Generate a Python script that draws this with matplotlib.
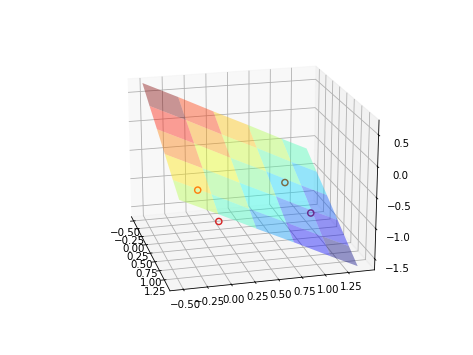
import numpy as np
import matplotlib
matplotlib.use("Agg")
import matplotlib.pyplot as plt

x_grid = [-0.5, -0.1, 0.3, 0.7, 1.1, 1.4]
y_grid = [-0.5, -0.1, 0.3, 0.7, 1.1, 1.4]
z_rows = [
    [0.70, 0.48, 0.27, 0.05, -0.17, -0.33],
    [0.42, 0.20, -0.01, -0.23, -0.45, -0.61],
    [0.13, -0.09, -0.30, -0.52, -0.74, -0.90],
    [-0.15, -0.37, -0.58, -0.80, -1.02, -1.18],
    [-0.44, -0.66, -0.87, -1.09, -1.31, -1.47],
    [-0.65, -0.87, -1.08, -1.30, -1.52, -1.68],
]
pts_x = [0.0, 1.0, 0.0, 1.0]
pts_y = [0.0, 0.0, 1.0, 1.0]
pts_z = [-0.96, -0.96, -0.96, -0.96]
pts_c = ["tab:orange", "tab:red", "#7a6a45", "#6a2a8a"]
x_ticks = [-0.5, -0.25, 0.0, 0.25, 0.5, 0.75, 1.0, 1.25]
y_ticks = [-0.5, -0.25, 0.0, 0.25, 0.5, 0.75, 1.0, 1.25]
z_ticks = [-1.5, -1.0, -0.5, 0.0, 0.5]

fig = plt.figure(figsize=(6.4, 4.8), dpi=74)
ax = fig.add_subplot(projection="3d", computed_zorder=False)
X, Y = np.meshgrid(x_grid, y_grid)
Z = np.array(z_rows)
ax.plot_surface(X, Y, Z, cmap="jet", alpha=0.4, rstride=1, cstride=1, linewidth=0, zorder=1)
for px, py, pz, pc in zip(pts_x, pts_y, pts_z, pts_c):
    ax.scatter([px], [py], [pz], facecolors="none", edgecolors=pc, s=36, linewidths=1.4,
               depthshade=False, zorder=2)
ax.set_xticks(x_ticks)
ax.set_yticks(y_ticks)
ax.set_zticks(z_ticks)
ax.set_zlim(-1.68, 0.73)
ax.set_xticklabels(["\u22120.50", "\u22120.25", "0.00", "0.25", "0.50", "0.75", "1.00", "1.25"])
ax.set_yticklabels(["\u22120.50", "\u22120.25", "0.00", "0.25", "0.50", "0.75", "1.00", "1.25"])
ax.tick_params(axis="x", pad=-2)
ax.tick_params(axis="y", pad=-2)
ax.view_init(elev=19, azim=-14.5)
ax.set_box_aspect(None, zoom=1.15)
pos = ax.get_position()
ax.set_position([pos.x0 + 1 / 474, pos.y0 + 4 / 355, pos.width, pos.height])
for t in ax.zaxis.get_major_ticks():
    t.label1.set_va("top")
fig.savefig("out.png", dpi=74)
